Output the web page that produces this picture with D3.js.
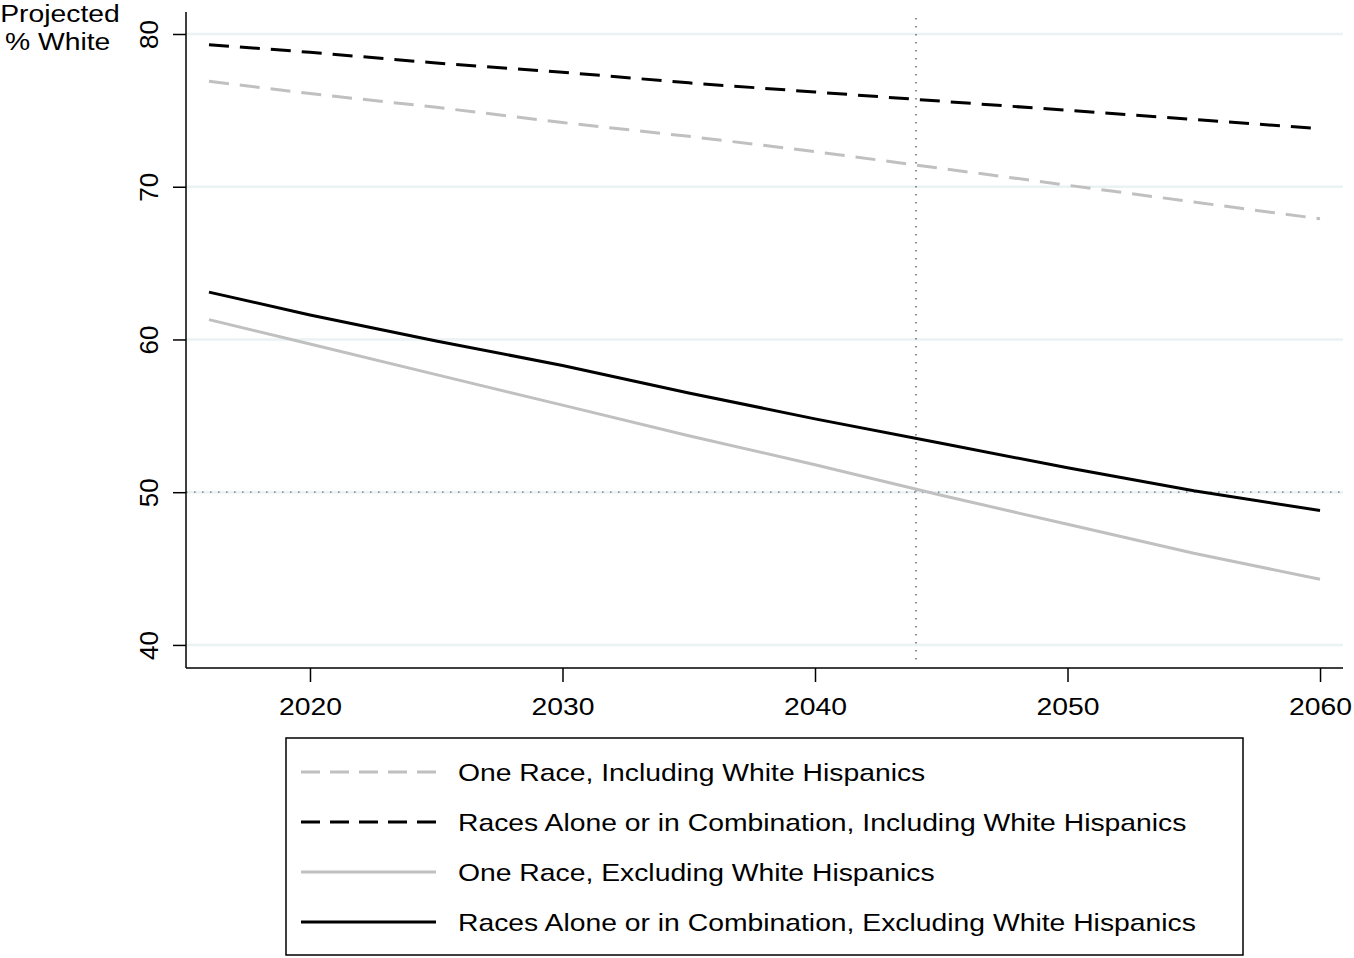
<!DOCTYPE html>
<html>
<head>
<meta charset="utf-8">
<script src="https://cdn.jsdelivr.net/npm/d3@7"></script>
<style>
  body { margin: 0; background: #fff; }
  text { font-family: "Liberation Sans", Arial, sans-serif; fill: #000; }
</style>
</head>
<body>
<svg id="chart" width="1354" height="958"></svg>
<script>
// projection years and series (percent white)
var years = [2016, 2020, 2025, 2030, 2035, 2040, 2045, 2050, 2055, 2060];
var oneRaceIncl = [76.9, 76.1, 75.2, 74.2, 73.3, 72.3, 71.2, 70.1, 69.0, 67.9];
var comboIncl   = [79.3, 78.8, 78.1, 77.5, 76.8, 76.2, 75.6, 75.0, 74.4, 73.8];
var oneRaceExcl = [61.3, 59.7, 57.7, 55.7, 53.7, 51.8, 49.8, 47.9, 46.0, 44.3];
var comboExcl   = [63.1, 61.6, 59.9, 58.3, 56.5, 54.8, 53.2, 51.6, 50.1, 48.8];
var xTicks = [2020, 2030, 2040, 2050, 2060];
var yTicks = [40, 50, 60, 70, 80];
var crossYear = 2044;
var legendLabels = [
  "One Race, Including White Hispanics",
  "Races Alone or in Combination, Including White Hispanics",
  "One Race, Excluding White Hispanics",
  "Races Alone or in Combination, Excluding White Hispanics"
];

var series = [
  {vals: oneRaceIncl, color: "#c0c0c0", dash: "20,11", legDash: "19,10"},
  {vals: comboIncl,   color: "#000",    dash: "20,11", legDash: "19,10"},
  {vals: oneRaceExcl, color: "#c0c0c0", dash: null, legDash: null},
  {vals: comboExcl,   color: "#000",    dash: null, legDash: null}
];

var svg = d3.select("#chart");
var pLeft = 186, pRight = 1343, pTop = 12, pBottom = 668;
var stretch = 1.18; // text in the reference is drawn a bit wide

var x = d3.scaleLinear().domain([2015.09, 2060.91]).range([pLeft, pRight]);
var y = d3.scaleLinear().domain([38.49, 81.44]).range([pBottom, pTop]);

// gridlines
svg.append("g").selectAll("line").data(yTicks).join("line")
  .attr("x1", pLeft).attr("x2", pRight)
  .attr("y1", d => y(d)).attr("y2", d => y(d))
  .attr("stroke", "#eaf2f3").attr("stroke-width", 2.5);

// reference lines
svg.append("line")
  .attr("x1", pLeft).attr("x2", pRight)
  .attr("y1", y(50)).attr("y2", y(50))
  .attr("stroke", "#667").attr("stroke-width", 1.3)
  .attr("stroke-dasharray", "1.5,6.5");
svg.append("line")
  .attr("x1", x(crossYear)).attr("x2", x(crossYear))
  .attr("y1", pTop + 6).attr("y2", pBottom - 6)
  .attr("stroke", "#555").attr("stroke-width", 1.3)
  .attr("stroke-dasharray", "1.5,6.5");

// axes
var yAxis = svg.append("g").attr("transform", "translate(" + pLeft + ",0)")
  .call(d3.axisLeft(y).tickValues(yTicks).tickSize(13).tickPadding(14).tickFormat(d3.format("d")));
yAxis.select(".domain").attr("d", "M0," + pTop + "V" + pBottom).attr("stroke-width", 1.5);
yAxis.selectAll(".tick line").attr("stroke-width", 1.5);
yAxis.selectAll(".tick text")
  .attr("font-size", 26).attr("text-anchor", "middle")
  .attr("x", null).attr("dy", null)
  .attr("transform", "translate(-38,0) rotate(-90) translate(0,9.5)");

var xAxis = svg.append("g").attr("transform", "translate(0," + pBottom + ")")
  .call(d3.axisBottom(x).tickValues(xTicks).tickSize(14).tickPadding(16).tickFormat(d3.format("d")));
xAxis.select(".domain").attr("d", "M" + pLeft + ",0H" + pRight).attr("stroke-width", 1.5);
xAxis.selectAll(".tick line").attr("stroke-width", 1.5);
xAxis.selectAll(".tick text").attr("font-size", 24)
  .attr("transform", "scale(" + stretch + ",1)");

svg.selectAll(".domain, .tick line").attr("stroke", "#000");
svg.selectAll(".tick text").attr("fill", "#000").style("font-family", "'Liberation Sans', Arial, sans-serif");

// axis title
var title = svg.append("text").attr("font-size", 24).attr("text-anchor", "middle")
  .attr("transform", "translate(60,0) scale(" + stretch + ",1)");
title.append("tspan").attr("x", 0).attr("y", 22).text("Projected");
title.append("tspan").attr("x", -2).attr("y", 50).text("% White");

// series lines
var line = d3.line().x((d, i) => x(years[i])).y(d => y(d));
series.forEach(function (s) {
  svg.append("path")
    .attr("d", line(s.vals))
    .attr("fill", "none")
    .attr("stroke", s.color)
    .attr("stroke-width", 3)
    .attr("stroke-dasharray", s.dash);
});

// legend
var leg = svg.append("g");
leg.append("rect")
  .attr("x", 286).attr("y", 738).attr("width", 957).attr("height", 217)
  .attr("fill", "#fff").attr("stroke", "#000").attr("stroke-width", 1.5);
series.forEach(function (s, i) {
  var ly = 772 + i * 50;
  leg.append("line")
    .attr("x1", 301).attr("x2", 436).attr("y1", ly).attr("y2", ly)
    .attr("stroke", s.color).attr("stroke-width", 3)
    .attr("stroke-dasharray", s.legDash);
  leg.append("text")
    .attr("transform", "translate(458," + (ly + 9) + ") scale(" + stretch + ",1)")
    .attr("font-size", 24)
    .text(legendLabels[i]);
});
</script>
</body>
</html>
